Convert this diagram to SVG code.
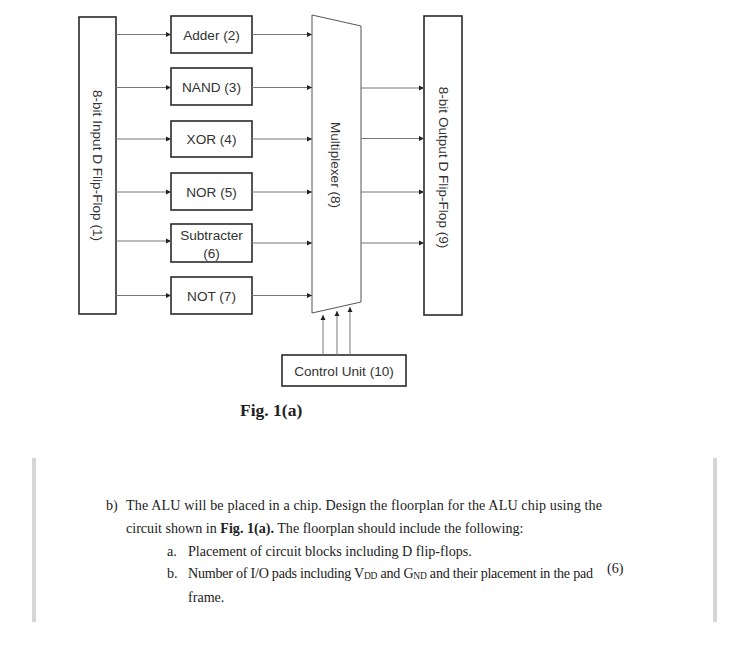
<svg xmlns="http://www.w3.org/2000/svg" width="735" height="646" viewBox="0 0 735 646">
<defs>
<marker id="ah" markerWidth="6" markerHeight="6" refX="5" refY="3" orient="auto" markerUnits="userSpaceOnUse">
<path d="M0,0.5 L5,3 L0,5.5 Z" fill="#222"/>
</marker>
<style>
.box{fill:#fff;stroke:#2a2a2a;stroke-width:1.6}
.mux{fill:#fff;stroke:#555;stroke-width:1}
.lbl{font-family:"Liberation Sans",Arial,sans-serif;font-size:13.6px;fill:#333;text-anchor:middle}
.conn line{stroke:#777;stroke-width:1;marker-end:url(#ah)}
.doc{font-family:"Liberation Serif","Times New Roman",serif;font-size:14.1px;fill:#222}
.sub{font-size:9.5px}
.bar{fill:#d6d6d6}
</style>
</defs>
<rect width="735" height="646" fill="#fff"/>

<g id="input-ff">
<rect class="box" x="79" y="17" width="37" height="297"/>
<text class="lbl" transform="translate(93,165.5) rotate(90)">8-bit Input D Flip-Flop (1)</text>
</g>
<g id="adder">
<rect class="box" x="171" y="16" width="81" height="37"/>
<text class="lbl" x="211.5" y="39.5">Adder (2)</text>
</g>
<g id="nand">
<rect class="box" x="171" y="68" width="81" height="37"/>
<text class="lbl" x="211.5" y="91.5">NAND (3)</text>
</g>
<g id="xor">
<rect class="box" x="171" y="121" width="81" height="36"/>
<text class="lbl" x="211.5" y="144">XOR (4)</text>
</g>
<g id="nor">
<rect class="box" x="171" y="173" width="81" height="37"/>
<text class="lbl" x="211.5" y="196.5">NOR (5)</text>
</g>
<g id="subtracter">
<rect class="box" x="171" y="224" width="81" height="38"/>
<text class="lbl" x="211.5" y="239.5">Subtracter</text>
<text class="lbl" x="211.5" y="257.5">(6)</text>
</g>
<g id="not">
<rect class="box" x="171" y="277" width="81" height="37"/>
<text class="lbl" x="211.5" y="300.5">NOT (7)</text>
</g>
<g id="multiplexer">
<polygon class="mux" points="312,15 361,26 361,302 312,313"/>
<text class="lbl" transform="translate(331,165) rotate(90)">Multiplexer (8)</text>
</g>
<g id="output-ff">
<rect class="box" x="424" y="16" width="38" height="299"/>
<text class="lbl" transform="translate(438.5,167.5) rotate(90)">8-bit Output D Flip-Flop (9)</text>
</g>
<g id="control-unit">
<rect class="box" x="282" y="355" width="124" height="31"/>
<text class="lbl" x="344" y="375.5">Control Unit (10)</text>
</g>

<g id="connectors" class="conn">
<line x1="116" y1="34.5" x2="171" y2="34.5"/>
<line x1="116" y1="87.5" x2="171" y2="87.5"/>
<line x1="116" y1="139" x2="171" y2="139"/>
<line x1="116" y1="192" x2="171" y2="192"/>
<line x1="116" y1="241" x2="171" y2="241"/>
<line x1="116" y1="295.5" x2="171" y2="295.5"/>
<line x1="252" y1="34.5" x2="312" y2="34.5"/>
<line x1="252" y1="87.5" x2="312" y2="87.5"/>
<line x1="252" y1="139" x2="312" y2="139"/>
<line x1="252" y1="192" x2="312" y2="192"/>
<line x1="252" y1="243" x2="312" y2="243"/>
<line x1="252" y1="295.5" x2="312" y2="295.5"/>
<line x1="361" y1="88" x2="424" y2="88"/>
<line x1="361" y1="138.5" x2="424" y2="138.5"/>
<line x1="361" y1="192" x2="424" y2="192"/>
<line x1="361" y1="243" x2="424" y2="243"/>
<line x1="323" y1="355" x2="323" y2="315"/>
<line x1="337" y1="355" x2="337" y2="311"/>
<line x1="350" y1="355" x2="350" y2="307"/>
</g>

<text x="240" y="416" font-family="'Liberation Serif','Times New Roman',serif" font-weight="bold" font-size="17.5" fill="#222">Fig. 1(a)</text>

<rect class="bar" x="32" y="458" width="4" height="164"/>
<rect class="bar" x="713" y="458" width="4" height="164"/>

<text class="doc" x="106" y="510">b)</text>
<text class="doc" x="126" y="510" textLength="476" lengthAdjust="spacing">The ALU will be placed in a chip. Design the floorplan for the ALU chip using the</text>
<text class="doc" x="126" y="533">circuit shown in <tspan font-weight="bold">Fig. 1(a).</tspan> The floorplan should include the following:</text>
<text class="doc" x="167" y="556">a.</text>
<text class="doc" x="188" y="556">Placement of circuit blocks including D flip-flops.</text>
<text class="doc" x="167" y="578">b.</text>
<text class="doc" x="188" y="578" textLength="405" lengthAdjust="spacing">Number of I/O pads including V<tspan class="sub" dy="1">DD</tspan><tspan dy="-1"> and G</tspan><tspan class="sub" dy="1">ND</tspan><tspan dy="-1"> and their placement in the pad</tspan></text>
<text class="doc" x="188" y="602">frame.</text>
<text class="doc" x="607" y="573">(6)</text>
</svg>
